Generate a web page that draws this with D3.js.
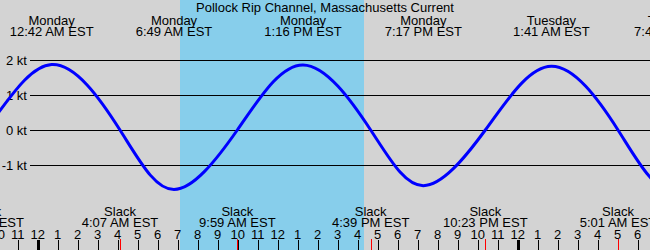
<!DOCTYPE html>
<html><head><meta charset="utf-8">
<script src="https://cdn.jsdelivr.net/npm/d3@7"></script>
<style>
html,body{margin:0;padding:0;background:#d3d3d3;overflow:hidden}
svg{display:block}
text{font-family:"Liberation Sans",Arial,sans-serif;font-size:13px;fill:#000}
</style>
</head><body><svg id="c" width="650" height="250"></svg>
<script>
const title = "Pollock Rip Channel, Massachusetts Current";
const timeZone = "EST";
const eventDays   = ["Sunday","Sunday","Monday","Monday","Monday","Monday","Monday","Monday","Monday","Monday","Tuesday","Tuesday","Tuesday","Tuesday"];
const eventTimes  = ["6:20 PM","9:23 PM","12:42 AM","4:07 AM","6:49 AM","9:59 AM","1:16 PM","4:39 PM","7:17 PM","10:23 PM","1:41 AM","5:01 AM","7:44 AM","10:50 AM"];
const eventKinds  = ["Ebb","Slack","Flood","Slack","Ebb","Slack","Flood","Slack","Ebb","Slack","Flood","Slack","Ebb","Slack"];
const eventSpeeds = [-1.6,0,1.87,0,-1.70,0,1.86,0,-1.59,0,1.82,0,-1.72,0];
const daylightStart = "Monday 7:07 AM";
const daylightEnd   = "Monday 4:19 PM";
const viewStart = "Sunday 10:07 PM";
const viewEnd   = "Tuesday 6:37 AM";
const speedTicks = [2,1,0,-1];
const speedTickLabels = ["2 kt","1 kt","0 kt","-1 kt"];

const dayOffset = {Sunday:-24, Monday:0, Tuesday:24};
function toHours(day, clock){
  const m = clock.match(/(\d+):(\d+)\s*(AM|PM)/);
  let h = (+m[1]) % 12; if (m[3]==="PM") h += 12;
  return dayOffset[day] + h + (+m[2])/60;
}
function parseFull(s){ const i = s.indexOf(" "); return toHours(s.slice(0,i), s.slice(i+1)); }

const W = 650, H = 250;
const svg = d3.select("#c");
const x = d3.scaleLinear().domain([parseFull(viewStart), parseFull(viewEnd)]).range([0, W]);
const y = d3.scaleLinear().domain([-1, 2]).range([165, 60]);

const events = eventTimes.map((t,i)=>({h: toHours(eventDays[i], t), day: eventDays[i], time: t, kind: eventKinds[i], v: eventSpeeds[i]}));
const visible = e => x(e.h) > -45 && x(e.h) < W + 45;

// background
svg.append("rect").attr("width",W).attr("height",H).attr("fill","#d3d3d3");
const x0 = Math.round(x(parseFull(daylightStart))), x1 = Math.round(x(parseFull(daylightEnd)));
svg.append("rect").attr("x",x0).attr("y",0).attr("width",x1-x0).attr("height",H).attr("fill","#87ceeb");

// title
svg.append("text").attr("x",W/2).attr("y",12).attr("text-anchor","middle").text(title);

// gridlines + labels
speedTicks.forEach((s,i)=>{
  const yy = Math.round(y(s)) + 0.5;
  svg.append("line").attr("x1",30).attr("x2",W).attr("y1",yy).attr("y2",yy).attr("stroke","#000").attr("stroke-width",1);
  svg.append("text").attr("x",27).attr("y",Math.round(y(s))+5).attr("text-anchor","end").text(speedTickLabels[i]);
});

// curve
svg.append("path").datum(events)
  .attr("fill","none").attr("stroke","#0000ff").attr("stroke-width",3)
  .attr("d", d3.line().x(d=>x(d.h)).y(d=>y(d.v)).curve(d3.curveNatural));

// max labels (top)
const maxes = events.filter(e=>e.kind!=="Slack" && visible(e));
maxes.forEach(e=>{
  const g = svg.append("g").attr("transform",`translate(${x(e.h)},0)`);
  g.append("text").attr("y",25).attr("text-anchor","middle").text(e.day);
  g.append("text").attr("y",36).attr("text-anchor","middle").text(e.time+" "+timeZone);
});
// slack labels (bottom)
const slacks = events.filter(e=>e.kind==="Slack" && visible(e));
slacks.forEach(e=>{
  const g = svg.append("g").attr("transform",`translate(${x(e.h)},0)`);
  g.append("text").attr("y",216).attr("text-anchor","middle").text("Slack");
  g.append("text").attr("y",227).attr("text-anchor","middle").text(e.time+" "+timeZone);
});

// hour ticks
const hours = d3.range(Math.floor(x.domain()[0]), Math.ceil(x.domain()[1])+1);
hours.forEach(h=>{
  const xx = Math.round(x(h));
  const hh = ((h % 12) + 12) % 12;
  const lab = hh === 0 ? "12" : String(hh);
  svg.append("text").attr("x",x(h)).attr("y",239).attr("text-anchor","middle").text(lab);
  const midnight = ((h % 24) + 24) % 24 === 0;
  svg.append("line").attr("x1",xx+0.5).attr("x2",xx+0.5).attr("y1",240).attr("y2",H)
    .attr("stroke","#000").attr("stroke-width", midnight ? 3 : 1);
});
// slack red ticks
slacks.forEach(e=>{
  const xx = Math.round(x(e.h)) + 0.5;
  svg.append("line").attr("x1",xx).attr("x2",xx).attr("y1",239).attr("y2",H).attr("stroke","#ff0000").attr("stroke-width",1);
});
</script></body></html>
